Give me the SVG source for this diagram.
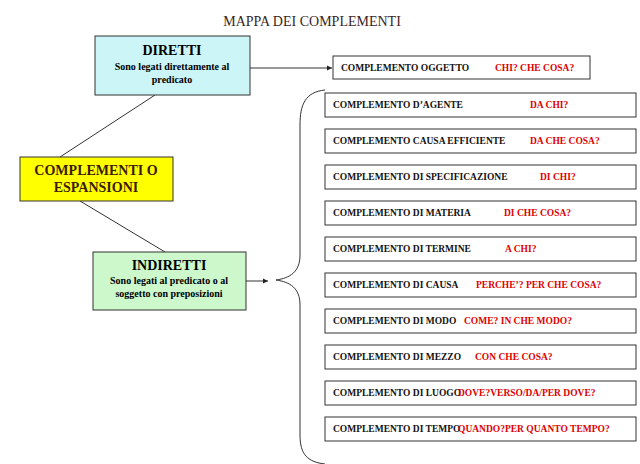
<svg xmlns="http://www.w3.org/2000/svg" width="640" height="464" viewBox="0 0 640 464">
<style>
text{font-family:"Liberation Serif","Times New Roman",serif;font-weight:bold}
.b{fill:#fff;stroke:#333;stroke-width:1}
.l{font-size:9.5px;fill:#111}
.r{font-size:9.5px;fill:#e00000}
.c{stroke:#333;stroke-width:1;fill:none}
</style>
<defs><marker id="a" markerWidth="6" markerHeight="6" refX="5" refY="3" orient="auto"><path d="M0,0.5L5,3L0,5.5z" fill="#222"/></marker></defs>
<rect width="640" height="464" fill="#fff"/>
<text x="312" y="26" text-anchor="middle" style="font-weight:normal;font-size:14px;fill:#3a1f1f">MAPPA DEI COMPLEMENTI</text>
<g id="connectors">
<line class="c" x1="155" y1="95" x2="60" y2="157"/>
<line class="c" x1="80" y1="201" x2="165" y2="252"/>
<line class="c" x1="250" y1="68" x2="332" y2="68" marker-end="url(#a)"/>
<line class="c" x1="246" y1="281" x2="268" y2="281" marker-end="url(#a)"/>
<path class="c" d="M325,90 C305,92 300,105 300,125 L300,255 C300,272 290,278 276,280 C290,282 300,288 300,305 L300,435 C300,455 308,462 325,464"/>
</g>
<g id="diretti"><rect x="95" y="36" width="155" height="59" fill="#ccf5f8" stroke="#333"/>
<text x="172" y="55" text-anchor="middle" font-size="14">DIRETTI</text>
<text x="172" y="70" text-anchor="middle" font-size="10">Sono legati direttamente al</text>
<text x="172" y="83" text-anchor="middle" font-size="10">predicato</text></g>
<g id="complementi"><rect x="20" y="157" width="153" height="44" fill="#ffff00" stroke="#333"/>
<text x="96" y="175" text-anchor="middle" font-size="14" fill="#3a1a00">COMPLEMENTI O</text>
<text x="96" y="192" text-anchor="middle" font-size="14" fill="#3a1a00">ESPANSIONI</text></g>
<g id="indiretti"><rect x="93" y="252" width="153" height="58" fill="#ccf8cc" stroke="#333"/>
<text x="169" y="270" text-anchor="middle" font-size="14">INDIRETTI</text>
<text x="169" y="284" text-anchor="middle" font-size="10">Sono legati al predicato o al</text>
<text x="169" y="297" text-anchor="middle" font-size="10">soggetto con preposizioni</text></g>
<g id="oggetto"><rect class="b" x="333" y="56" width="257" height="23"/><text class="l" x="341" y="71">COMPLEMENTO OGGETTO</text><text class="r" x="495" y="71">CHI? CHE COSA?</text></g>
<g id="agente"><rect class="b" x="325" y="93" width="311" height="24"/><text class="l" x="333" y="108">COMPLEMENTO D’AGENTE</text><text class="r" x="530" y="108">DA CHI?</text></g>
<g id="causaeff"><rect class="b" x="325" y="129" width="311" height="24"/><text class="l" x="333" y="144">COMPLEMENTO CAUSA EFFICIENTE</text><text class="r" x="530" y="144">DA CHE COSA?</text></g>
<g id="specificazione"><rect class="b" x="325" y="165" width="311" height="24"/><text class="l" x="333" y="180">COMPLEMENTO DI SPECIFICAZIONE</text><text class="r" x="540" y="180">DI CHI?</text></g>
<g id="materia"><rect class="b" x="325" y="201" width="311" height="24"/><text class="l" x="333" y="216">COMPLEMENTO DI MATERIA</text><text class="r" x="504" y="216">DI CHE COSA?</text></g>
<g id="termine"><rect class="b" x="325" y="237" width="311" height="24"/><text class="l" x="333" y="252">COMPLEMENTO DI TERMINE</text><text class="r" x="505" y="252">A CHI?</text></g>
<g id="causa"><rect class="b" x="325" y="273" width="311" height="24"/><text class="l" x="333" y="288">COMPLEMENTO DI CAUSA</text><text class="r" x="476" y="288">PERCHE’? PER CHE COSA?</text></g>
<g id="modo"><rect class="b" x="325" y="309" width="311" height="24"/><text class="l" x="333" y="324">COMPLEMENTO DI MODO</text><text class="r" x="464" y="324">COME? IN CHE MODO?</text></g>
<g id="mezzo"><rect class="b" x="325" y="345" width="311" height="24"/><text class="l" x="333" y="360">COMPLEMENTO DI MEZZO</text><text class="r" x="475" y="360">CON CHE COSA?</text></g>
<g id="luogo"><rect class="b" x="325" y="381" width="311" height="24"/><text class="l" x="333" y="396">COMPLEMENTO DI LUOGO</text><text class="r" x="458" y="396">DOVE?VERSO/DA/PER DOVE?</text></g>
<g id="tempo"><rect class="b" x="325" y="417" width="311" height="24"/><text class="l" x="333" y="432">COMPLEMENTO DI TEMPO</text><text class="r" x="458" y="432">QUANDO?PER QUANTO TEMPO?</text></g>
</svg>
